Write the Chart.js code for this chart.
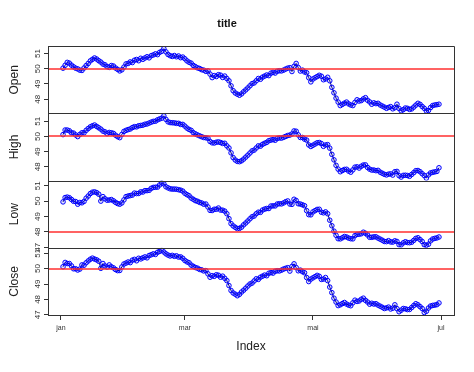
<!DOCTYPE html>
<html>
<head>
<meta charset="utf-8">
<script src="https://cdn.jsdelivr.net/npm/chart.js@4.4.1/dist/chart.umd.min.js"></script>
<style>
    html, body { margin: 0; padding: 0; background: #fff; }
</style>
</head>
<body>
<canvas id="myChart" width="474" height="372"></canvas>
<script>
// daily OHLC, 2 Jan .. 30 Jun
var open = [
    50.04, 50.23, 50.42, 50.37, 50.24, 50.13, 50.04, 49.99, 49.91, 49.89,
    50.05, 50.21, 50.35, 50.52, 50.62, 50.71, 50.64, 50.53, 50.44, 50.31,
    50.26, 50.14, 50.09, 50.21, 50.18, 50.05, 49.96, 49.86, 49.93, 50.11,
    50.32, 50.35, 50.45, 50.41, 50.56, 50.61, 50.53, 50.69, 50.62, 50.71,
    50.79, 50.72, 50.86, 50.91, 50.98, 50.93, 51.08, 51.15, 51.32, 51.11,
    50.94, 50.86, 50.81, 50.87, 50.79, 50.84, 50.73, 50.77, 50.66, 50.52,
    50.43, 50.37, 50.22, 50.14, 50.06, 50.02, 49.94, 49.91, 49.83, 49.86,
    49.65, 49.42, 49.55, 49.49, 49.61, 49.58, 49.43, 49.52, 49.36, 49.21,
    48.88, 48.56, 48.41, 48.33, 48.26, 48.35, 48.49, 48.61, 48.74, 48.88,
    49.02, 49.07, 49.21, 49.36, 49.31, 49.45, 49.52, 49.59, 49.55, 49.71,
    49.76, 49.72, 49.84, 49.87, 49.86, 49.91, 49.98, 50.04, 50.07, 49.82,
    50.16, 50.35, 50.08, 49.85, 49.91, 49.79, 49.74, 49.41, 49.14, 49.33,
    49.41, 49.49, 49.57, 49.51, 49.28, 49.33, 49.44, 49.21, 48.78, 48.42,
    48.07, 47.81, 47.58, 47.66, 47.74, 47.81, 47.69, 47.62, 47.58, 47.79,
    47.96, 47.88, 47.91, 48.02, 48.10, 47.93, 47.82, 47.67, 47.76, 47.71,
    47.73, 47.62, 47.55, 47.48, 47.40, 47.46, 47.51, 47.37, 47.44, 47.67,
    47.39, 47.24, 47.31, 47.42, 47.40, 47.33, 47.36, 47.48, 47.61, 47.73,
    47.66, 47.52, 47.40, 47.23, 47.26, 47.45, 47.58, 47.62, 47.64, 47.67
];
var high = [
    50.12, 50.42, 50.42, 50.37, 50.24, 50.22, 50.10, 49.99, 50.13, 50.24,
    50.24, 50.40, 50.52, 50.63, 50.70, 50.75, 50.66, 50.57, 50.48, 50.35,
    50.30, 50.18, 50.26, 50.24, 50.20, 50.08, 49.98, 49.92, 50.13, 50.33,
    50.40, 50.45, 50.49, 50.58, 50.64, 50.63, 50.70, 50.72, 50.74, 50.80,
    50.82, 50.88, 50.94, 50.99, 51.00, 51.09, 51.15, 51.20, 51.35, 51.12,
    50.96, 50.91, 50.90, 50.89, 50.86, 50.86, 50.79, 50.79, 50.68, 50.55,
    50.46, 50.40, 50.25, 50.17, 50.10, 50.04, 49.98, 49.93, 49.91, 49.88,
    49.67, 49.58, 49.57, 49.62, 49.64, 49.60, 49.54, 49.55, 49.38, 49.24,
    48.92, 48.61, 48.45, 48.36, 48.34, 48.40, 48.51, 48.64, 48.77, 48.91,
    49.05, 49.10, 49.24, 49.38, 49.36, 49.48, 49.55, 49.61, 49.72, 49.76,
    49.79, 49.75, 49.87, 49.90, 49.89, 49.94, 50.00, 50.06, 50.09, 50.16,
    50.36, 50.34, 50.10, 49.93, 49.93, 49.82, 49.76, 49.44, 49.34, 49.42,
    49.50, 49.58, 49.60, 49.53, 49.35, 49.44, 49.46, 49.23, 48.82, 48.46,
    48.10, 47.85, 47.68, 47.76, 47.83, 47.84, 47.72, 47.65, 47.80, 47.98,
    48.00, 47.92, 48.04, 48.12, 48.13, 47.96, 47.85, 47.79, 47.79, 47.75,
    47.77, 47.65, 47.58, 47.51, 47.47, 47.52, 47.54, 47.46, 47.68, 47.70,
    47.42, 47.33, 47.44, 47.45, 47.43, 47.38, 47.50, 47.62, 47.75, 47.76,
    47.68, 47.55, 47.43, 47.26, 47.47, 47.60, 47.64, 47.67, 47.70, 47.94
];
var low = [
    49.95, 50.23, 50.26, 50.22, 50.11, 49.99, 49.97, 49.80, 49.91, 49.89,
    49.98, 50.19, 50.33, 50.49, 50.58, 50.60, 50.55, 50.45, 50.00, 50.29,
    50.15, 50.06, 50.07, 50.10, 50.02, 49.92, 49.84, 49.80, 49.88, 50.08,
    50.29, 50.33, 50.36, 50.39, 50.52, 50.49, 50.50, 50.60, 50.59, 50.68,
    50.68, 50.70, 50.83, 50.89, 50.90, 50.91, 51.05, 51.17, 51.12, 50.93,
    50.86, 50.80, 50.78, 50.78, 50.77, 50.74, 50.71, 50.65, 50.51, 50.42,
    50.35, 50.20, 50.12, 50.03, 49.99, 49.92, 49.88, 49.80, 49.81, 49.62,
    49.40, 49.39, 49.47, 49.47, 49.55, 49.42, 49.41, 49.35, 49.18, 48.86,
    48.54, 48.39, 48.30, 48.21, 48.23, 48.31, 48.46, 48.58, 48.71, 48.85,
    48.98, 49.03, 49.18, 49.28, 49.27, 49.42, 49.48, 49.52, 49.52, 49.68,
    49.69, 49.69, 49.81, 49.83, 49.82, 49.88, 49.96, 50.01, 49.81, 49.79,
    50.12, 50.04, 49.83, 49.81, 49.76, 49.70, 49.38, 49.12, 49.11, 49.30,
    49.38, 49.46, 49.47, 49.28, 49.24, 49.30, 49.18, 48.76, 48.40, 48.05,
    47.78, 47.56, 47.55, 47.62, 47.70, 47.67, 47.60, 47.56, 47.55, 47.76,
    47.84, 47.85, 47.88, 47.98, 47.91, 47.80, 47.65, 47.65, 47.68, 47.68,
    47.60, 47.53, 47.46, 47.38, 47.37, 47.43, 47.35, 47.34, 47.42, 47.38,
    47.17, 47.16, 47.29, 47.36, 47.31, 47.30, 47.33, 47.45, 47.58, 47.62,
    47.50, 47.38, 47.17, 47.13, 47.20, 47.42, 47.54, 47.58, 47.61, 47.67
];
var close = [
    50.12, 50.40, 50.33, 50.33, 50.18, 49.99, 49.99, 49.91, 49.97, 50.24,
    50.22, 50.38, 50.50, 50.61, 50.68, 50.62, 50.57, 50.48, 50.02, 50.33,
    50.17, 50.10, 50.24, 50.12, 50.05, 49.94, 49.87, 49.88, 50.11, 50.30,
    50.36, 50.43, 50.39, 50.55, 50.60, 50.51, 50.67, 50.63, 50.70, 50.76,
    50.70, 50.85, 50.90, 50.96, 50.92, 51.06, 51.12, 51.19, 51.08, 50.96,
    50.88, 50.82, 50.86, 50.80, 50.83, 50.75, 50.76, 50.67, 50.53, 50.44,
    50.38, 50.23, 50.15, 50.07, 50.03, 49.95, 49.92, 49.85, 49.87, 49.66,
    49.44, 49.54, 49.50, 49.60, 49.57, 49.44, 49.51, 49.37, 49.22, 48.90,
    48.58, 48.42, 48.34, 48.24, 48.33, 48.48, 48.60, 48.73, 48.87, 49.00,
    49.06, 49.20, 49.34, 49.30, 49.44, 49.51, 49.58, 49.54, 49.70, 49.74,
    49.71, 49.83, 49.86, 49.85, 49.90, 49.97, 50.02, 50.06, 49.84, 50.14,
    50.31, 50.07, 49.86, 49.90, 49.80, 49.73, 49.42, 49.16, 49.32, 49.40,
    49.48, 49.56, 49.50, 49.30, 49.32, 49.42, 49.22, 48.80, 48.44, 48.08,
    47.83, 47.60, 47.65, 47.73, 47.80, 47.70, 47.63, 47.59, 47.78, 47.95,
    47.87, 47.90, 48.01, 48.08, 47.94, 47.83, 47.69, 47.75, 47.70, 47.72,
    47.63, 47.56, 47.49, 47.41, 47.45, 47.50, 47.38, 47.43, 47.65, 47.40,
    47.20, 47.30, 47.41, 47.39, 47.34, 47.35, 47.47, 47.60, 47.72, 47.65,
    47.53, 47.41, 47.15, 47.23, 47.44, 47.57, 47.61, 47.63, 47.66, 47.77
];

var seriesNames = ['Open', 'High', 'Low', 'Close'];
var refLines = [50, 50, 48, 50];          // red horizontal line in each panel
var monthTicks = [0, 59, 120, 181];       // day offsets from 1 Jan
var monthLabels = ['jan', 'mar', 'mai', 'jul'];

var series = [open, high, low, close];
var days = open.map(function (v, i) { return i + 1; }); // 2 Jan = day 1

Chart.defaults.font.family = '"Liberation Sans", Arial, sans-serif';
Chart.defaults.color = '#222';

// R style range: data range widened by 4% on each side
function rRange(vals) {
    var lo = Math.min.apply(null, vals), hi = Math.max.apply(null, vals);
    var pad = (hi - lo) * 0.04;
    return [lo - pad, hi + pad];
}

function yScale(k) {
    var r = rRange(series[k]);
    return {
        type: 'linear',
        position: 'left',
        stack: 'ohlc',
        stackWeight: 1,
        min: r[0],
        max: r[1],
        afterBuildTicks: function (s) {
            var t = [];
            for (var v = Math.ceil(r[0] - 0.02); v <= Math.floor(r[1]); v++) {
                t.push({ value: v });
            }
            s.ticks = t;
        },
        afterFit: function (s) { s.width = 48; },
        grid: { drawOnChartArea: false, tickLength: 4, color: '#333' },
        border: { color: '#333' },
        ticks: {
            font: { size: 8 },
            color: '#333',
            minRotation: 90,
            maxRotation: 90,
            autoSkip: false,
            crossAlign: 'center',
            padding: 2
        },
        title: {
            display: true,
            text: seriesNames[k],
            font: { size: 12 },
            color: '#222',
            padding: { top: 7, bottom: 0 }
        }
    };
}

var xr = rRange(days);

// panel boxes, then red reference lines on top like abline()
var panelPlugin = {
    id: 'panels',
    afterDraw: function (chart) {
        var ctx = chart.ctx, area = chart.chartArea;
        var left = Math.round(area.left) + 0.5, right = Math.round(area.right) + 0.5;
        ctx.save();
        ctx.lineWidth = 1;
        ctx.strokeStyle = '#333';
        ctx.beginPath();
        seriesNames.forEach(function (name) {
            var s = chart.scales['y' + name];
            var t = Math.round(s.top) + 0.5, b = Math.round(s.bottom) + 0.5;
            ctx.moveTo(left, t); ctx.lineTo(right, t);
            ctx.moveTo(left, b); ctx.lineTo(right, b);
        });
        ctx.moveTo(left, Math.round(area.top) + 0.5); ctx.lineTo(left, Math.round(area.bottom) + 0.5);
        ctx.moveTo(right, Math.round(area.top) + 0.5); ctx.lineTo(right, Math.round(area.bottom) + 0.5);
        ctx.stroke();

        // a bit wider than 1px so the red survives image compression
        ctx.strokeStyle = '#ff3030';
        ctx.lineWidth = 1.4;
        ctx.beginPath();
        seriesNames.forEach(function (name, k) {
            var y = Math.round(chart.scales['y' + name].getPixelForValue(refLines[k]));
            ctx.moveTo(left + 0.5, y);
            ctx.lineTo(right - 0.5, y);
        });
        ctx.stroke();
        ctx.restore();
    }
};

var scales = {
    x: {
        type: 'linear',
        min: xr[0],
        max: xr[1],
        afterBuildTicks: function (s) {
            s.ticks = monthTicks.map(function (v) { return { value: v }; });
        },
        afterFit: function (s) { s.height = 57; },
        ticks: {
            callback: function (val) { return monthLabels[monthTicks.indexOf(val)]; },
            font: { size: 7 },
            color: '#333',
            maxRotation: 0,
            autoSkip: false,
            padding: 4
        },
        grid: { drawOnChartArea: false, tickLength: 5, color: '#333' },
        border: { color: '#333' },
        title: {
            display: true,
            text: 'Index',
            font: { size: 12 },
            color: '#222',
            padding: { top: 0, bottom: 18 }
        }
    }
};
// bottom panel first, top panel last (stack is filled from the last one)
['Close', 'Low', 'High', 'Open'].forEach(function (name) {
    scales['y' + name] = yScale(seriesNames.indexOf(name));
});

var ctx = document.getElementById('myChart');
var myChart = new Chart(ctx, {
    type: 'line',
    data: {
        datasets: series.map(function (vals, k) {
            return {
                label: seriesNames[k],
                yAxisID: 'y' + seriesNames[k],
                data: vals.map(function (v, i) { return { x: days[i], y: v }; }),
                borderColor: '#101070',
                borderWidth: 1,
                pointRadius: 2.3,
                pointBorderWidth: 1,
                pointBorderColor: '#0000ff',
                pointBackgroundColor: 'rgba(0, 0, 255, 0.12)',
                tension: 0
            };
        })
    },
    options: {
        responsive: false,
        animation: false,
        layout: { padding: { left: 0, right: 20, top: 0, bottom: 0 } },
        plugins: {
            legend: { display: false },
            tooltip: { enabled: false },
            title: {
                display: true,
                text: 'title',
                font: { size: 11, weight: 'bold' },
                color: '#111',
                padding: { top: 17, bottom: 16 }
            }
        },
        scales: scales
    },
    plugins: [panelPlugin]
});
</script>
</body>
</html>
